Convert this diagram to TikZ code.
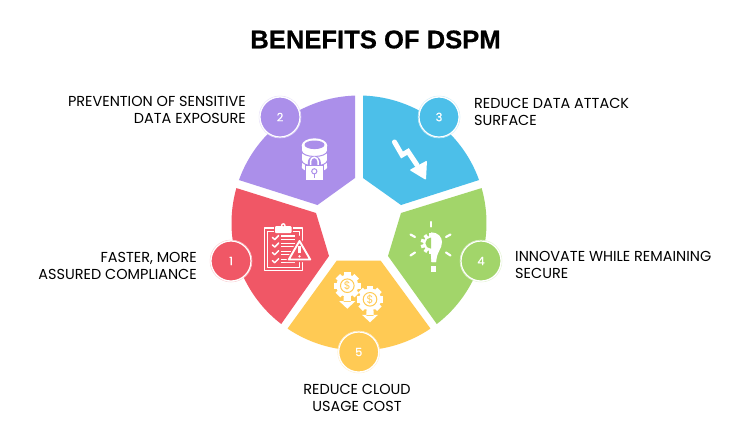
\documentclass[tikz,border=0pt]{standalone}
\usepackage{fontspec}
\setmainfont{Poppins}
\newfontfamily\titlefont[FakeBold=0.6]{Liberation Sans Bold}
\newfontfamily\numfont[FakeBold=0.35]{Poppins}
\definecolor{cpurple}{HTML}{AB8FEA}
\definecolor{cblue}{HTML}{4CBFE9}
\definecolor{cred}{HTML}{F05766}
\definecolor{cgreen}{HTML}{A2D56A}
\definecolor{cyellow}{HTML}{FFCA54}
\tikzset{
  numbadge/.style={circle,minimum size=40pt,inner sep=0pt,fill=#1,draw=white,line width=1.2pt,text=white,font=\numfont\fontsize{11.5}{13}\selectfont},
  lbl/.style={inner sep=0pt,text=black,font=\fontsize{14.45}{17.4}\selectfont},
  iconline/.style={draw=white,line width=1.4pt,line cap=round,line join=round},
  ray/.style={draw=white,line width=2.2pt,line cap=round},
}
\newcommand{\halo}[3]{\draw[#3!30,line width=0.5pt] (#1,#2) circle[radius=21];}
\newcommand{\geargroup}[2]{%
  \begin{scope}[shift={(#1,#2)}]
    \fill[white] (0,0) circle[radius=11];
    \foreach \a in {0,45,...,315}{
      \fill[white,rotate=\a] (-3.2,-9) rectangle (3.2,-13.3);
    }
    \draw[cyellow,line width=1pt] (0,0) circle[radius=6.8];
    \node[inner sep=0pt,text=cyellow,font=\fontsize{11}{11}\selectfont] at (0,0) {\$};
    \fill[white] (-3.6,11) rectangle (3.6,16.5) (-8,15.5) -- (8,15.5) -- (0,23) -- cycle;
  \end{scope}}
\begin{document}
\begin{tikzpicture}[x=1pt,y=-1pt]
\useasboundingbox (0,0) rectangle (752,437);
\fill[white] (0,0) rectangle (752,437);
\coordinate (c) at (359,223);
\def\Rad{127.5}

% title
\node[inner sep=0pt,font=\titlefont\fontsize{25.6}{30}\selectfont] (title) at (375.5,39.5) {BENEFITS OF DSPM};

% petals
\fill[cpurple] ([shift={(199.7:\Rad)}]c) arc[start angle=199.7,end angle=268.2,radius=\Rad] -- (355,178) -- (317.5,205) -- cycle;
\fill[cblue] ([shift={(271.8:\Rad)}]c) arc[start angle=271.8,end angle=340.3,radius=\Rad] -- (401,205) -- (363,178) -- cycle;
\fill[cgreen] ([shift={(344.1:\Rad)}]c) arc[start angle=344.1,end angle=412.4,radius=\Rad] -- (388,256) -- (401,213) -- cycle;
\fill[cyellow] ([shift={(55.9:\Rad)}]c) arc[start angle=55.9,end angle=124.1,radius=\Rad] -- (336.7,260.7) -- (380.7,260.7) -- cycle;
\fill[cred] ([shift={(127.6:\Rad)}]c) arc[start angle=127.6,end angle=195.9,radius=\Rad] -- (316,213) -- (329,256) -- cycle;

% badges
\halo{231}{261}{cred}\halo{280}{117}{cpurple}\halo{439}{117}{cblue}\halo{481}{261}{cgreen}\halo{358.7}{352}{cyellow}
\node[numbadge=cred] (n1) at (231,261) {1};
\node[numbadge=cpurple] (n2) at (280,117) {2};
\node[numbadge=cblue] (n3) at (439,117) {3};
\node[numbadge=cgreen] (n4) at (481,261) {4};
\node[numbadge=cyellow] (n5) at (358.7,352) {5};

% labels
\node[lbl,align=right,anchor=east] (l1) at (197,266) {FASTER, MORE\\ASSURED COMPLIANCE};
\node[lbl,align=right,anchor=east] (l2) at (246,110) {PREVENTION OF SENSITIVE\\DATA EXPOSURE};
\node[lbl,align=left,anchor=west] (l3) at (474,112) {REDUCE DATA ATTACK\\SURFACE};
\node[lbl,align=left,anchor=west] (l4) at (515,265) {INNOVATE WHILE REMAINING\\SECURE};
\node[lbl,align=center] (l5) at (357,398) {REDUCE CLOUD\\USAGE COST};

% clipboard icon
\draw[iconline] (264.5,228) rectangle (302.5,270.5);
\draw[iconline,line width=1pt] (267.7,231.2) rectangle (299.5,267.5);
\fill[cred] (273.7,224.5) rectangle (292.8,234.5);
\fill[white,rounded corners=1pt] (275,226) rectangle (291.5,233);
\fill[white] (283.3,225.5) circle[radius=2.4];
\fill[cred] (283.3,225.5) circle[radius=0.9];
\foreach \y in {237.5,245,252.7,260.7}{
  \draw[iconline,line width=1.5pt] (272.5,\y) -- (274.7,\y+2) -- (278.7,\y-2);
  \draw[white,line width=1.4pt] (281,\y-1.5) -- (295,\y-1.5);
  \draw[white,line width=1.2pt] (281,\y+1.7) -- (295,\y+1.7);
}
\fill[cred] (299.5,235.5) -- (314,262) -- (285.5,262) -- cycle;
\draw[white,line width=1.9pt,line join=round,fill=cred] (299.5,241) -- (310.2,259.5) -- (288.8,259.5) -- cycle;
\draw[white,line width=2.2pt] (299.5,245.5) -- (299.5,253.2);
\fill[white] (299.5,256.4) circle[radius=1.3];

% database + lock icon
\fill[white] (314.5,145.7) ellipse[x radius=12.8,y radius=7.4];
\fill[white] (301.7,145.7) rectangle (327.3,167);
\fill[white] (314.5,167) ellipse[x radius=12.8,y radius=5];
\fill[cpurple] (314.5,144.8) ellipse[x radius=10,y radius=4.3];
\draw[cpurple,line width=1pt] (301.7,151) arc[start angle=180,end angle=0,x radius=12.8,y radius=5.5];
\draw[cpurple,line width=1pt] (301.7,160.5) arc[start angle=180,end angle=0,x radius=12.8,y radius=5.5];
\fill[cpurple] (307.8,168) -- (307.8,162.5) arc[start angle=180,end angle=360,radius=6.5] -- (320.8,168) -- cycle;
\draw[white,line width=1.5pt] (310.6,167) -- (310.6,161) arc[start angle=180,end angle=360,radius=3.7] -- (318,167);
\fill[cpurple] (304.8,164.8) rectangle (323.8,181.2);
\fill[white] (306,166) rectangle (322.6,180);
\draw[cpurple,line width=1pt] (314.3,171.3) circle[radius=2.6];
\draw[cpurple,line width=1pt] (314.3,174) -- (314.3,177.5);

% falling arrow icon
\draw[white,line width=5pt,line cap=round,line join=miter] (394.5,142) -- (402,155) -- (408,151.5) -- (417,165);
\fill[white,rounded corners=1pt] (409.5,170) -- (427,160.5) -- (426,180) -- cycle;

% light bulb icon
\draw[ray] (431,222) -- (431,226.5);
\draw[ray] (410.5,234.5) -- (415,237);
\draw[ray] (446,237) -- (450.5,234.5);
\draw[ray] (410.5,255.5) -- (415,252.5);
\draw[ray] (446,252.5) -- (450.5,255.5);
\fill[white] (431,232.3) .. controls (438,232.3) and (442,237) .. (442,242) .. controls (442,249) and (437,251) .. (436,262) -- (431.5,262) -- (431,250) -- cycle;
\fill[white] (431,243.5) circle[radius=7.6];
\foreach \a in {90,126,162,198,234,270}{
  \fill[white,rotate around={\a:(431,243.5)}] (431+6,241.8) rectangle (431+10.4,245.2);
}
\fill[white] (430.5,250) -- (431.5,262) -- (436,262) -- (437,250) -- cycle;
\fill[cgreen] (431,237.5) arc[start angle=-90,end angle=-270,radius=5.6] -- cycle;
\fill[white] (430.7,265.7) rectangle (436,271.7);

% gear icons
\geargroup{347.3}{285.7}
\geargroup{370}{299.3}
\end{tikzpicture}
\end{document}
